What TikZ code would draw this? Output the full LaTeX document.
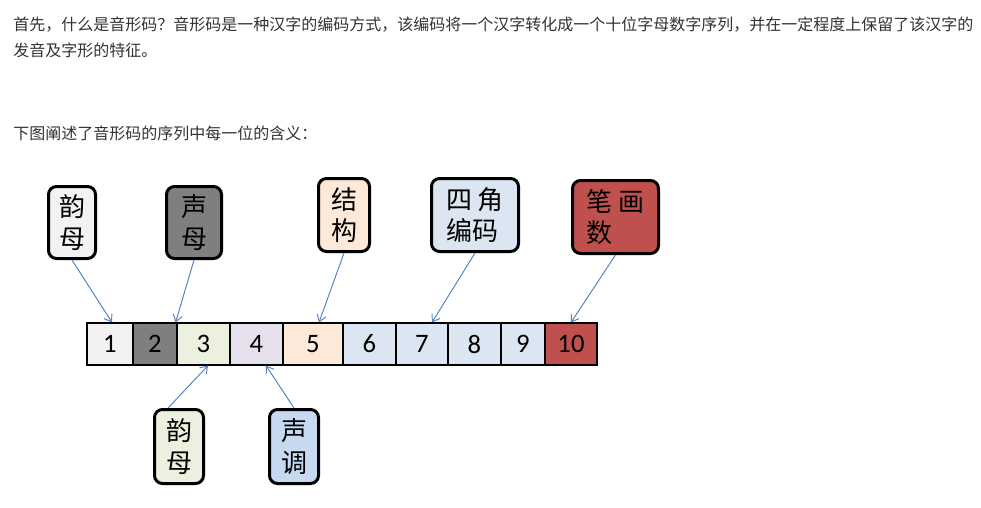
\documentclass[tikz,border=0pt]{standalone}
\usepackage{fontspec}
\newfontfamily\cjk{Noto Sans CJK SC}
\newfontfamily\numfont{Carlito}
\usetikzlibrary{arrows.meta,calc}
\definecolor{txt}{HTML}{333333}
\definecolor{c1}{HTML}{F2F2F2}
\definecolor{c2}{HTML}{7F7F7F}
\definecolor{c3}{HTML}{EBF1DE}
\definecolor{c4}{HTML}{E5E0EC}
\definecolor{c5}{HTML}{FDE9D9}
\definecolor{c6}{HTML}{DCE6F2}
\definecolor{c10}{HTML}{C0504D}
\definecolor{c7b}{HTML}{C6D9F1}
\definecolor{arr}{HTML}{4F81BD}
\tikzset{
  para/.style={anchor=west,inner sep=0pt,text=txt,font=\cjk\fontsize{12}{14}\selectfont},
  cell/.style={draw=black,line width=0.9pt,inner sep=0pt,minimum height=31.5pt,font=\numfont\fontsize{20}{21}\selectfont},
  lbl/.style={draw=black,line width=2.25pt,rounded corners=6pt,inner sep=0pt,align=left,font=\cjk\fontsize{19.5}{23.5}\selectfont},
  conn/.style={draw=arr,line width=0.7pt,-{Straight Barb[length=5pt,width=7pt]}}
}
\begin{document}
\begin{tikzpicture}[x=0.75pt,y=-0.75pt]
\useasboundingbox[fill=white] (0,0) rectangle (981,507);
% paragraph
\node[para] (p1) at (13,25) {首先，什么是音形码？音形码是一种汉字的编码方式，该编码将一个汉字转化成一个十位字母数字序列，并在一定程度上保留了该汉字的};
\node[para] (p2) at (13,50) {发音及字形的特征。};
\node[para] (p3) at (13,133) {下图阐述了音形码的序列中每一位的含义：};
% cells
\node[cell,fill=c1,minimum width=34.5pt] (n1) at (110,344) {1};
\node[cell,fill=c2,minimum width=33pt] (n2) at (155,344) {2};
\node[cell,fill=c3,minimum width=39.75pt] (n3) at (203.5,344) {3};
\node[cell,fill=c4,minimum width=39.75pt] (n4) at (256.5,344) {4};
\node[cell,fill=c5,minimum width=45pt] (n5) at (313,344) {5};
\node[cell,fill=c6,minimum width=39.75pt] (n6) at (369.5,344) {6};
\node[cell,fill=c6,minimum width=39pt] (n7) at (422,344) {7};
\node[cell,fill=c6,minimum width=39.75pt] (n8) at (474.5,344) {8};
\node[cell,fill=c6,minimum width=33pt] (n9) at (523,344) {9};
\node[cell,fill=c10,minimum width=39pt] (n10) at (571,344) {10};
% label boxes
\node[lbl,fill=c1,minimum width=35.25pt,minimum height=54pt] (b1) at (72,222.5) {韵\\母};
\node[lbl,fill=c2,minimum width=41.25pt,minimum height=54pt] (b2) at (194,222.5) {声\\母};
\node[lbl,fill=c5,minimum width=38.25pt,minimum height=54.75pt] (b3) at (344,215) {结\\构};
\node[lbl,fill=c6,minimum width=65.25pt,minimum height=54.75pt] (b4) at (475,215) {四 角\\编码};
\node[lbl,fill=c10,minimum width=64.5pt,minimum height=54.75pt] (b5) at (615.5,217) {笔 画\\数};
\node[lbl,fill=c3,minimum width=36.75pt,minimum height=55.5pt] (b6) at (179,446.5) {韵\\母};
\node[lbl,fill=c7b,minimum width=36.75pt,minimum height=55.5pt] (b7) at (294,446.5) {声\\调};
% connectors
\draw[conn] (b1.south) -- ($(n1.north)+(2,0)$);
\draw[conn] (b2.south) -- ($(n2.north east)+(-2,0)$);
\draw[conn] (b3.south) -- ($(n5.north)+(6,0)$);
\draw[conn] (b4.south) -- ($(n7.north)+(10,0)$);
\draw[conn] (b5.south) -- (n10.north);
\draw[conn] ($(b6.north)+(-11,0)$) -- ($(n3.south)+(4.5,0)$);
\draw[conn] (b7.north) -- ($(n4.south)+(9.5,0)$);
\end{tikzpicture}
\end{document}
